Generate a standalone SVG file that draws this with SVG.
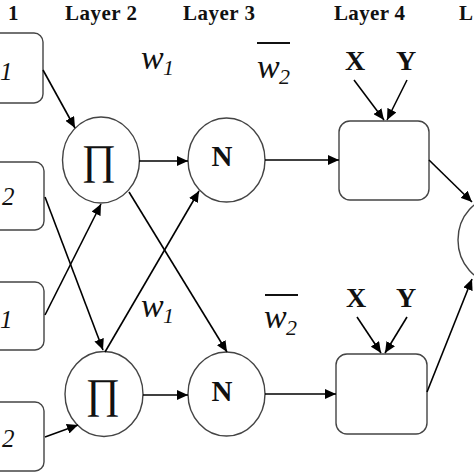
<svg xmlns="http://www.w3.org/2000/svg" width="474" height="474" viewBox="0 0 474 474">
<defs>
<marker id="ah" markerUnits="userSpaceOnUse" markerWidth="12" markerHeight="10" refX="11" refY="5" orient="auto">
<path d="M0,0 L11,5 L0,10 z" fill="#000"/>
</marker>
<style>
.box{fill:#fff;stroke:#444;stroke-width:1.4}
.nd{fill:#fff;stroke:#444;stroke-width:1.4}
.hd{font-family:"Liberation Serif","Times New Roman",serif;font-weight:bold;font-size:21px;fill:#111}
.xy{font-family:"Liberation Serif","Times New Roman",serif;font-weight:bold;font-size:28px;fill:#111;text-anchor:middle}
.sym{font-family:"Liberation Serif","DejaVu Serif",serif;font-size:42px;fill:#111;text-anchor:middle}
.nn{font-family:"Liberation Serif","Times New Roman",serif;font-weight:bold;font-size:29px;fill:#111;text-anchor:middle}
.w{font-family:"Liberation Serif","Times New Roman",serif;font-style:italic;font-size:34px;fill:#111}
.sub{font-family:"Liberation Serif","Times New Roman",serif;font-style:italic;font-size:22px;fill:#111}
.lb{font-family:"Liberation Serif","Times New Roman",serif;font-style:italic;font-size:25px;fill:#111}
.cn line{stroke:#000;stroke-width:1.6;marker-end:url(#ah)}
.ov{stroke:#111;stroke-width:2}
</style>
</defs>
<rect width="474" height="474" fill="#fff"/>
<g id="headers">
<text class="hd" x="8" y="20">1</text>
<text class="hd" x="65" y="20" textLength="72">Layer 2</text>
<text class="hd" x="183" y="20" textLength="72">Layer 3</text>
<text class="hd" x="334" y="20" textLength="71">Layer 4</text>
<text class="hd" x="459" y="20">L</text>
</g>
<g id="in1"><rect class="box" x="-20" y="33" width="63" height="70" rx="9"/><text class="lb" x="0" y="80">1</text></g>
<g id="in2"><rect class="box" x="-20" y="162" width="64" height="68" rx="9"/><text class="lb" x="2" y="205">2</text></g>
<g id="in3"><rect class="box" x="-20" y="282" width="64" height="68" rx="9"/><text class="lb" x="0" y="328">1</text></g>
<g id="in4"><rect class="box" x="-20" y="402" width="64" height="69" rx="9"/><text class="lb" x="2" y="447">2</text></g>
<g id="pi1"><ellipse class="nd" cx="101" cy="160" rx="38.5" ry="43"/><text class="sym" x="99" y="174">∏</text></g>
<g id="pi2"><ellipse class="nd" cx="104" cy="394" rx="39" ry="42.5"/><text class="sym" x="103" y="408">∏</text></g>
<g id="n1"><ellipse class="nd" cx="226.5" cy="160" rx="38.5" ry="42"/><text class="nn" x="222" y="166">N</text></g>
<g id="n2"><ellipse class="nd" cx="226.5" cy="394" rx="38.5" ry="42"/><text class="nn" x="222" y="401">N</text></g>
<g id="r1"><rect class="box" x="339" y="121" width="90" height="79" rx="11"/></g>
<g id="r2"><rect class="box" x="336" y="354" width="91" height="80" rx="11"/></g>
<g id="out"><ellipse class="nd" cx="497" cy="240" rx="39" ry="43"/></g>
<g id="labels">
<text class="xy" x="355" y="70">X</text>
<text class="xy" x="406" y="70">Y</text>
<text class="xy" x="356" y="307">X</text>
<text class="xy" x="406" y="307">Y</text>
<text class="w" x="141" y="69">w</text><text class="sub" x="163" y="75">1</text>
<line class="ov" x1="257" y1="43" x2="290" y2="43"/>
<text class="w" x="257" y="78">w</text><text class="sub" x="279" y="84">2</text>
<text class="w" x="141" y="317">w</text><text class="sub" x="163" y="323">1</text>
<line class="ov" x1="265" y1="295" x2="298" y2="295"/>
<text class="w" x="264" y="328">w</text><text class="sub" x="286" y="335">2</text>
</g>
<g id="connectors" class="cn">
<line x1="43" y1="70" x2="75" y2="128"/>
<line x1="45" y1="197" x2="103" y2="350"/>
<line x1="45" y1="315" x2="101" y2="204"/>
<line x1="45" y1="437" x2="78" y2="425"/>
<line x1="139" y1="161" x2="188" y2="161"/>
<line x1="129" y1="192" x2="227" y2="352"/>
<line x1="105" y1="352" x2="199" y2="191"/>
<line x1="143" y1="395" x2="188" y2="395"/>
<line x1="265" y1="160" x2="339" y2="160"/>
<line x1="265" y1="394" x2="336" y2="394"/>
<line x1="354" y1="80" x2="384" y2="120"/>
<line x1="407" y1="80" x2="387" y2="120"/>
<line x1="357" y1="317" x2="381" y2="353"/>
<line x1="407" y1="317" x2="385" y2="353"/>
<line x1="429" y1="160" x2="472" y2="202"/>
<line x1="427" y1="392" x2="472" y2="279"/>
</g>
</svg>
